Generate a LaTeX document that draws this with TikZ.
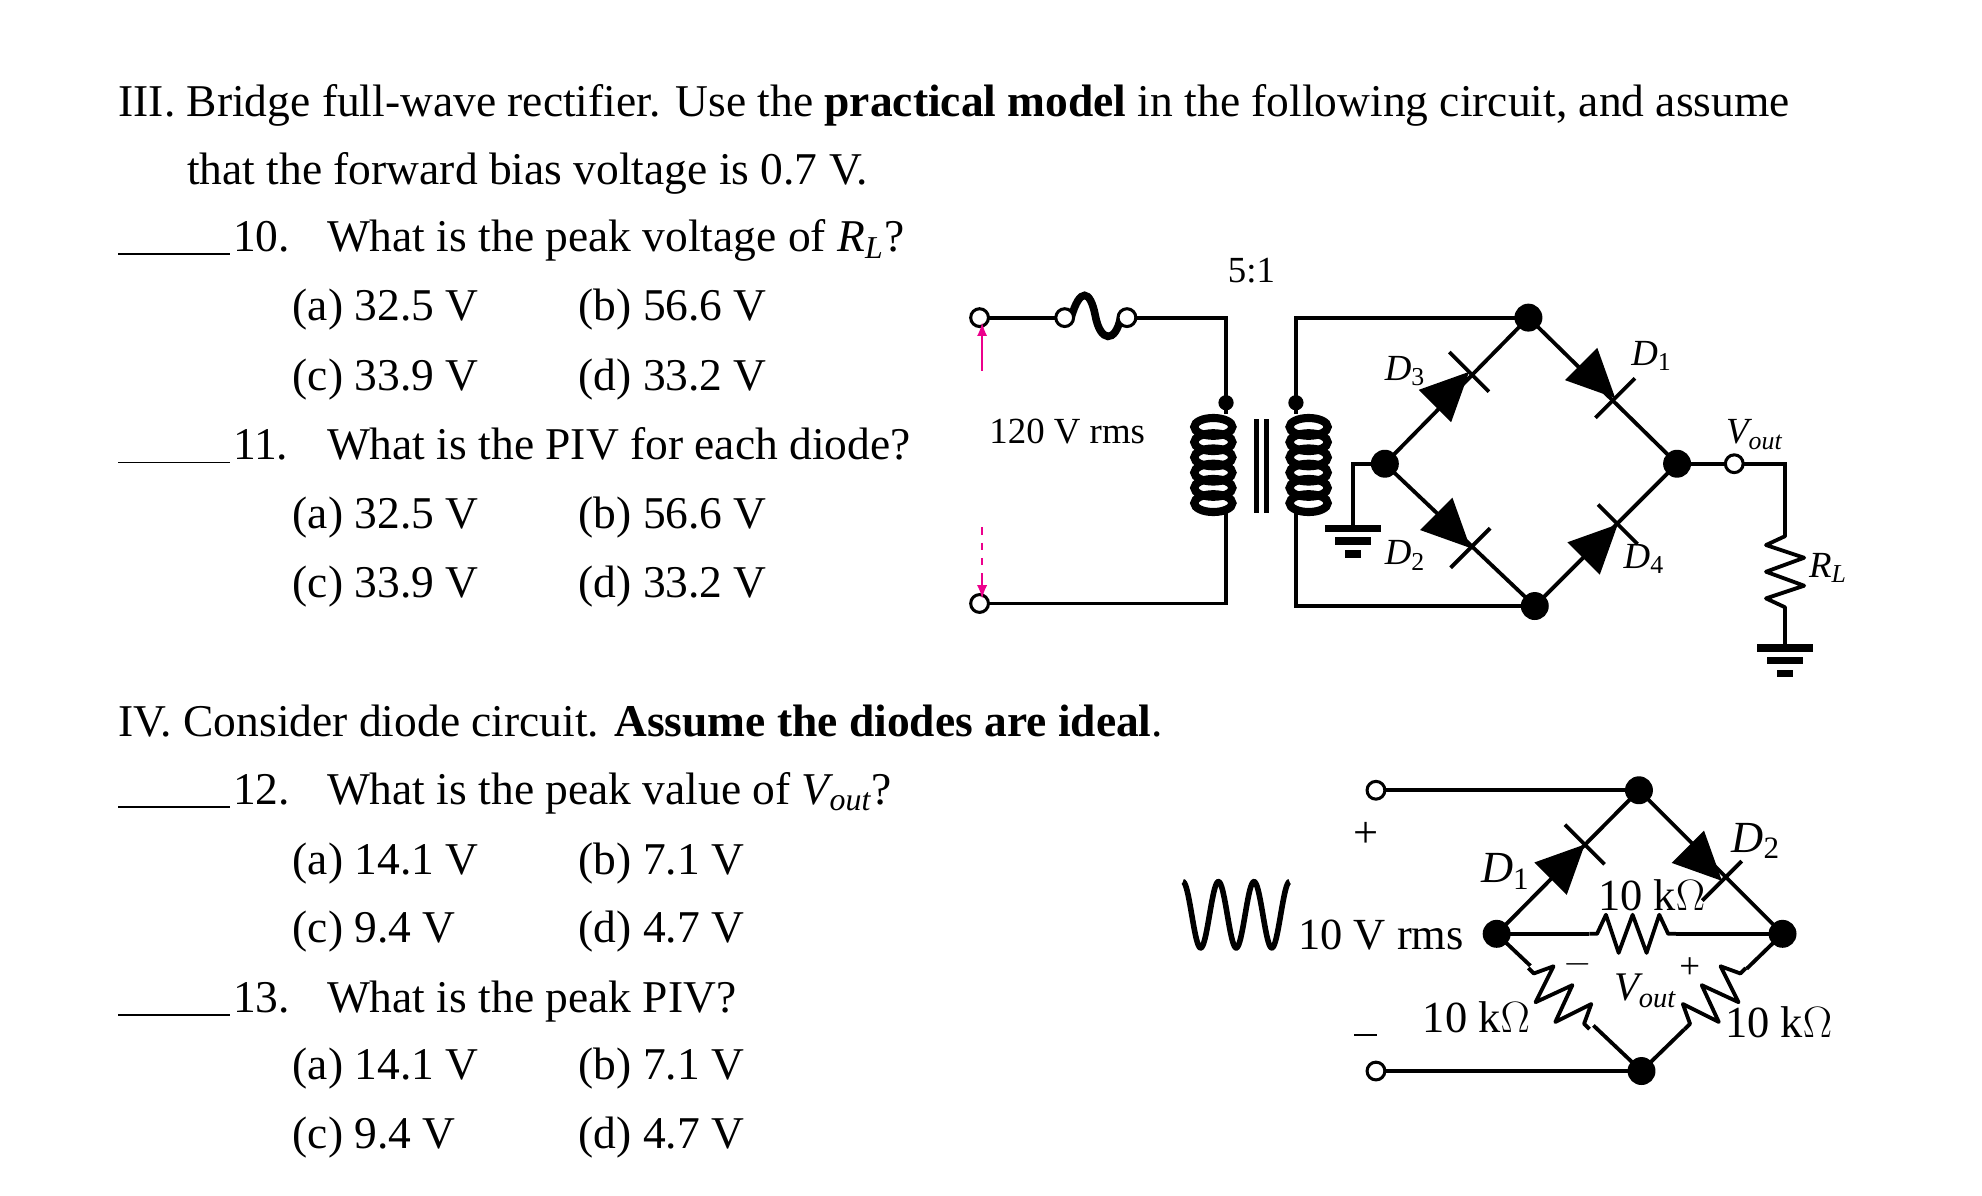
\documentclass[tikz,border=0pt]{standalone}
\usepackage{fontspec}
\setmainfont{Liberation Serif}
\begin{document}
\begin{tikzpicture}[x=0.5pt,y=-0.5pt,
  txt/.style={anchor=base west,inner sep=0,font=\fontsize{17.9}{19}\selectfont},
  lab/.style={inner sep=0,font=\fontsize{14.5}{16}\selectfont},
  big/.style={inner sep=0,font=\fontsize{17.5}{19}\selectfont},
  wire/.style={line width=1.5pt},
  dot/.style={circle,fill=black,inner sep=0,minimum size=11pt},
  term/.style={circle,draw,fill=white,line width=1.2pt,inner sep=0,minimum size=7pt}]
\useasboundingbox (0,0) rectangle (1560,941);
% ---------- text ----------
\node[txt] (t1) at (93,92) {III. Bridge full-wave rectifier. Use the \textbf{practical model} in the following circuit, and assume};
\node[txt] (t2) at (147,145) {that the forward bias voltage is 0.7 V.};
\newcommand\qline[3]{\draw[line width=0.6pt] (93,#1+2)--(181,#1+2);
  \node[txt] at (183,#1) {#2}; \node[txt] at (257,#1) {#3};}
\newcommand\opts[3]{\node[txt] at (230,#1) {#2}; \node[txt] at (455,#1) {#3};}
\qline{198}{10.}{What is the peak voltage of \textit{R\textsubscript{L}}?}
\opts{252}{(a) 32.5 V}{(b) 56.6 V}
\opts{307}{(c) 33.9 V}{(d) 33.2 V}
\qline{362}{11.}{What is the PIV for each diode?}
\opts{416}{(a) 32.5 V}{(b) 56.6 V}
\opts{470}{(c) 33.9 V}{(d) 33.2 V}
\node[txt] (t3) at (93,580) {IV. Consider diode circuit. \textbf{Assume the diodes are ideal}.};
\qline{633}{12.}{What is the peak value of \textit{V\textsubscript{out}}?}
\opts{688}{(a) 14.1 V}{(b) 7.1 V}
\opts{742}{(c) 9.4 V}{(d) 4.7 V}
\qline{797}{13.}{What is the peak PIV?}
\opts{850}{(a) 14.1 V}{(b) 7.1 V}
\opts{904}{(c) 9.4 V}{(d) 4.7 V}
% ---------- macros ----------
\newcommand\diode[2]{\begin{scope}[shift={(#1)},rotate=#2]
  \fill (-22,-18)--(-22,18)--(16,0)--cycle; \draw[line width=1.5pt] (16,-22)--(16,22);\end{scope}}
\newcommand\resz[2]{\begin{scope}[shift={(#1)},rotate=#2]
  \fill[white] (-34,-15) rectangle (34,15);
  \draw[wire,line join=round] (-34,0)--(-28,0)--(-21,-15)--(-11,15)--(0,-15)--(11,15)--(21,-15)--(28,0)--(34,0);\end{scope}}
\newcommand\gnd[1]{\begin{scope}[shift={(#1)}]
  \draw[line width=3pt] (-22,0)--(22,0); \draw[line width=3pt] (-14,10)--(14,10); \draw[line width=3pt] (-6,20)--(6,20);\end{scope}}
% ---------- circuit 1 ----------
\coordinate (inT) at (771,250); \coordinate (inB) at (771,475);
\coordinate (fA) at (838,250); \coordinate (fB) at (887,250);
\coordinate (top) at (1203,250); \coordinate (lft) at (1090,365);
\coordinate (rgt) at (1320,365); \coordinate (bot) at (1208,477);
\coordinate (vo) at (1365,365);
\draw[wire] (inT)--(fA); \draw[wire] (fB)--(965,250)--(965,326);
\draw[line width=3pt] (fA) ++(5,0) .. controls (850,226) and (858,228) .. (862,248) .. controls (866,270) and (878,270) .. (882,250);
\draw[wire] (965,404)--(965,475)--(inB);
\draw[wire] (1020,326)--(1020,250)--(top);
\draw[wire] (1020,404)--(1020,477)--(bot);
\foreach \yy in {336,348,360,372,384,396}{
  \draw[line width=3.2pt] (955,\yy) ellipse (15 and 7);
  \draw[line width=3.2pt] (1030,\yy) ellipse (15 and 7);}
\draw[line width=2pt] (989,330)--(989,404) (997,330)--(997,404);
\fill (965,317) circle (6); \fill (1020,317) circle (6);
\draw[wire] (top)--(lft)--(bot)--(rgt)--(top);
\draw[wire] (rgt)--(vo); \draw[wire] (vo)--(1405,365)--(1405,510);
\draw[wire] (lft)--(1065,365)--(1065,416);
\gnd{1065,416} \gnd{1405,510}
\resz{1405,450}{90}
\diode{1145,304}{45} \diode{1260,302}{-45}
\diode{1146,420}{-45} \diode{1262,424}{45}
\node[dot] (nT) at (top) {}; \node[dot] (nL) at (lft) {};
\node[dot] (nR) at (rgt) {}; \node[dot] (nB) at (bot) {};
\node[term] (T1) at (inT) {}; \node[term] (T2) at (inB) {};
\node[term] (F1) at (fA) {}; \node[term] (F2) at (fB) {};
\node[term] (To) at (vo) {};
\draw[magenta,line width=0.8pt,-latex] (773,292)--(773,254);
\draw[magenta,line width=0.8pt,dashed] (773,415)--(773,455);
\draw[magenta,line width=0.8pt,-latex] (773,455)--(773,471);
\node[lab] at (985,213) {5:1};
\node[lab] at (840,340) {120 V rms};
\node[lab] at (1106,292) {\textit{D}\textsubscript{3}};
\node[lab] at (1300,280) {\textit{D}\textsubscript{1}};
\node[lab] at (1106,437) {\textit{D}\textsubscript{2}};
\node[lab] at (1294,440) {\textit{D}\textsubscript{4}};
\node[lab] at (1381,342) {\textit{V\textsubscript{out}}};
\node[lab] at (1439,447) {\textit{R\textsubscript{L}}};
% ---------- circuit 2 ----------
\coordinate (aT) at (1083,622); \coordinate (aB) at (1083,843);
\coordinate (bt) at (1290,622); \coordinate (bb) at (1292,843);
\coordinate (bl) at (1178,735); \coordinate (br) at (1403,735);
\draw[wire] (aT)--(bt); \draw[wire] (aB)--(bb);
\draw[wire] (bt)--(bl)--(bb)--(br)--(bt); \draw[wire] (bl)--(br);
\diode{1236,676}{45} \diode{1344,682}{-45}
\resz{1285,735}{0} \resz{1227,786}{-45} \resz{1350,786}{45}
\node[dot] at (bt) {}; \node[dot] at (bb) {}; \node[dot] at (bl) {}; \node[dot] at (br) {};
\node[term] at (aT) {}; \node[term] at (aB) {};
\draw[line width=2.2pt] plot[domain=0:3,samples=150,smooth] ({931+\x*28},{720-26*sin(\x*360+90)});
\node[big] at (1087,736) {10 V rms};
\node[big] at (1300,705) {10 k$\Omega$};
\node[big] at (1162,801) {10 k$\Omega$};
\node[big] at (1400,805) {10 k$\Omega$};
\node[big] at (1185,686) {\textit{D}\textsubscript{1}};
\node[big] at (1382,662) {\textit{D}\textsubscript{2}};
\node[lab,font=\fontsize{16}{18}\selectfont] at (1295,780) {\textit{V\textsubscript{out}}};
\node[lab] at (1242,759) {$-$};
\node[lab] at (1330,762) {+};
\node[big] at (1075,657) {+};
\node[big] at (1075,815) {\rule{9pt}{0.8pt}};
\end{tikzpicture}
\end{document}
